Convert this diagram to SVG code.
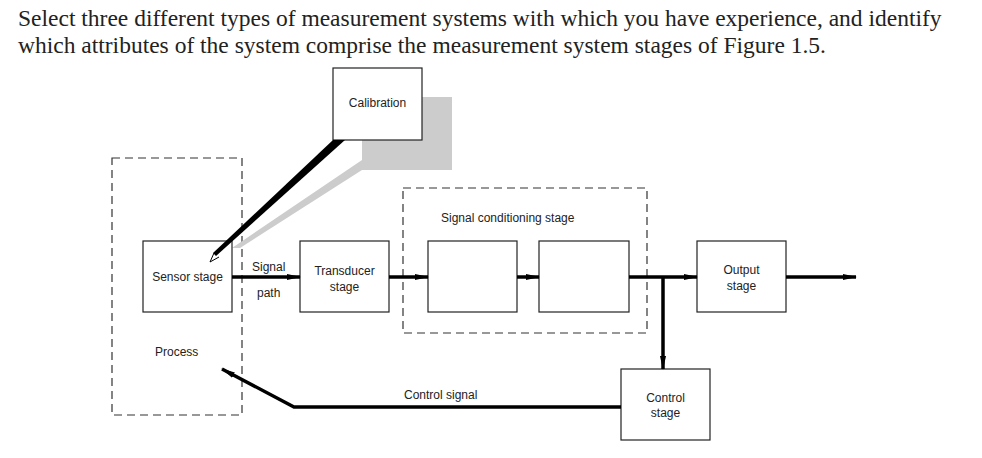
<svg xmlns="http://www.w3.org/2000/svg" width="982" height="458" viewBox="0 0 982 458">
<style>
.t{font-family:"Liberation Serif",serif;font-size:23.5px;fill:#222}
.l{font-family:"Liberation Sans",Arial,sans-serif;font-size:12px;fill:#222}
.b{fill:#fff;stroke:#222;stroke-width:1.2}
.d{fill:none;stroke:#333;stroke-width:1.2;stroke-dasharray:8,5}
.c{stroke:#000;stroke-width:3.5;fill:none}
</style>
<defs>
<marker id="a" markerWidth="14" markerHeight="8" refX="13" refY="4" orient="auto" markerUnits="userSpaceOnUse"><path d="M0,1L14,4L0,7z" fill="#000"/></marker>
</defs>
<rect width="982" height="458" fill="#fff"/>
<text class="t" x="18" y="26">Select three different types of measurement systems with which you have experience, and identify</text>
<text class="t" x="18" y="53">which attributes of the system comprise the measurement system stages of Figure 1.5.</text>
<g id="process"><rect class="d" x="112" y="158" width="130" height="257"/><text class="l" x="155" y="356">Process</text></g>
<g id="sigcond"><rect class="d" x="403" y="188" width="244" height="145"/><text class="l" x="441" y="222">Signal conditioning stage</text></g>
<g id="calib-shadow"><rect x="362" y="97" width="90" height="73" fill="#cccccc"/><polygon points="362,160 362,170 240,248 232,248" fill="#cccccc"/></g>
<g id="calibration"><rect class="b" x="333" y="68" width="89" height="72"/><text class="l" x="377.5" y="107" text-anchor="middle">Calibration</text></g>
<g id="sensor"><rect class="b" x="143" y="241" width="89" height="71"/><text class="l" x="187.5" y="281" text-anchor="middle">Sensor stage</text></g>
<g id="transducer"><rect class="b" x="300" y="241" width="89" height="71"/><text class="l" x="344.5" y="275" text-anchor="middle">Transducer</text><text class="l" x="344.5" y="291" text-anchor="middle">stage</text></g>
<g id="sc1"><rect class="b" x="428" y="241" width="89" height="71"/></g>
<g id="sc2"><rect class="b" x="539" y="241" width="90" height="71"/></g>
<g id="output"><rect class="b" x="697" y="241" width="89" height="71"/><text class="l" x="741.5" y="274" text-anchor="middle">Output</text><text class="l" x="741.5" y="290" text-anchor="middle">stage</text></g>
<g id="control"><rect class="b" x="621" y="369" width="89" height="71"/><text class="l" x="665.5" y="402" text-anchor="middle">Control</text><text class="l" x="665.5" y="417" text-anchor="middle">stage</text></g>
<g id="connectors">
<polygon points="333,140 345,140 216,256 213,253" fill="#000"/>
<path d="M214,253 L210,262 L219,257" fill="none" stroke="#000" stroke-width="1"/>
<line class="c" x1="232" y1="277" x2="300" y2="277" marker-end="url(#a)"/>
<line class="c" x1="389" y1="277" x2="428" y2="277" marker-end="url(#a)"/>
<line class="c" x1="517" y1="277" x2="539" y2="277" marker-end="url(#a)"/>
<line class="c" x1="629" y1="277" x2="697" y2="277" marker-end="url(#a)"/>
<line class="c" x1="786" y1="277" x2="856" y2="277" marker-end="url(#a)"/>
<line class="c" x1="663" y1="277" x2="663" y2="369" marker-end="url(#a)"/>
<polyline class="c" points="621,407 294,407 222,369" marker-end="url(#a)"/>
</g>
<text class="l" x="252" y="271">Signal</text><text class="l" x="257" y="297">path</text>
<text class="l" x="404" y="399">Control signal</text>
</svg>
